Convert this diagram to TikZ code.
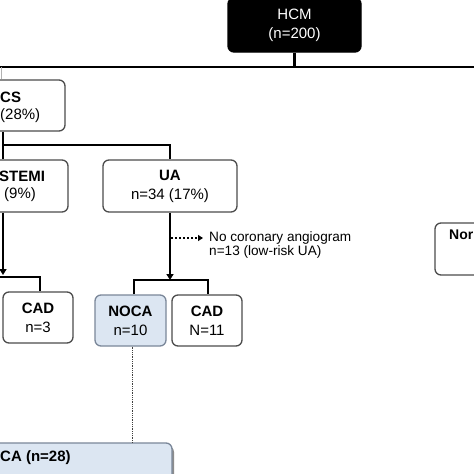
\documentclass[tikz,border=0pt]{standalone}
\usepackage{fontspec}
\setmainfont{Liberation Sans}
\usetikzlibrary{arrows.meta}
\definecolor{nocafill}{HTML}{DCE6F2}
\definecolor{nocaedge}{HTML}{7A8799}
\begin{document}
\begin{tikzpicture}[x=1pt,y=-1pt,
  box/.style={draw=black!70, line width=1.3pt, rounded corners=6pt, fill=white, inner sep=0pt, align=center, font=\fontsize{15}{19}\selectfont},
  hcmbox/.style={box, draw=black, fill=black, text=white},
  bluebox/.style={box, fill=nocafill, draw=nocaedge},
  lbl/.style={inner sep=0pt, anchor=west, font=\fontsize{15}{19}\selectfont},
  blbl/.style={lbl, font=\fontsize{15}{19}\selectfont\bfseries},
  note/.style={inner sep=0pt, anchor=west, align=left, font=\fontsize{13.6}{14}\selectfont},
  conn/.style={line width=2.1pt, black},
  tip/.style={-{Triangle[length=6pt,width=7pt]}},
  dots/.style={line width=1.8pt, dash pattern=on 2pt off 2pt},
  fine/.style={line width=0.8pt, black!75, densely dotted}
]
\useasboundingbox (0,0) rectangle (474,474);
\clip (0,0) rectangle (474,474);
\fill[white] (0,0) rectangle (474,474);

% boxes
\node[hcmbox, minimum width=133pt, minimum height=54pt] (hcm) at (294.5,25) {HCM\\(n=200)};
\node[box, minimum width=130pt, minimum height=51pt] (acs) at (0,105.5) {};
\node[blbl] (acsa) at (0,97) {CS};
\node[lbl] (acsb) at (0,116) {(28\%)};
\node[box, minimum width=136pt, minimum height=52pt] (stemi) at (0,186) {};
\node[blbl] (stemia) at (-1,176) {STEMI};
\node[lbl] (stemib) at (4,195) {(9\%)};
\node[box, minimum width=134pt, minimum height=52pt] (ua) at (170,186) {\textbf{UA}\\n=34 (17\%)};
\node[box, minimum width=70pt, minimum height=51pt] (cadl) at (38,317.5) {\textbf{CAD}\\n=3};
\node[bluebox, minimum width=71pt, minimum height=51pt] (noca) at (130.5,320.5) {\textbf{NOCA}\\n=10};
\node[box, minimum width=70pt, minimum height=51pt] (cadr) at (207,320.5) {\textbf{CAD}\\N=11};
\node[box, minimum width=105pt, minimum height=52pt] (non) at (487.5,249) {};
\node[blbl, font=\fontsize{14}{19}\selectfont\bfseries] (nona) at (449,235) {Nor};
\fill[black!45, rounded corners=6pt] (-20,446) rectangle (174,484);
\node[bluebox, minimum width=192pt, minimum height=40pt] (tot) at (76,463) {};
\node[blbl] (tota) at (0,458) {CA (n=28)};
\node[note] (noangio) at (209,245) {No coronary angiogram\\n=13 (low-risk UA)};

% connectors
\coordinate (hl) at (0,67);
\coordinate (hr) at (474,67);
\draw[conn] (hcm.south) -- (hcm.south |- hl);
\draw[conn] (hl) -- (hr);
\draw[line width=1.5pt, black!30] (1.5,67) -- (acs.north -| 1.5,0);
\draw[conn] ([xshift=3pt]acs.south) -- ([xshift=3pt]stemi.north);
\coordinate (split1) at (3,145);
\draw[conn] (split1) -| (ua.north);
\coordinate (arr1) at (3,275);
\draw[conn, line width=2.6pt, tip] ([xshift=3pt]stemi.south) -- (arr1);
\coordinate (h2) at (0,277);
\draw[conn] (h2) -| ([xshift=2pt]cadl.north);
\coordinate (arr2) at (170,280);
\draw[conn, tip] (ua.south) -- (arr2);
\draw[conn] ([xshift=3.5pt]noca.north) -- ++(0,-14) -| ([xshift=1pt]cadr.north);
\coordinate (d0) at (171,238);
\draw[dots, -{Triangle[length=5pt,width=6pt]}] (d0) -- ([xshift=-6pt]noangio.west |- d0);
\draw[fine] ([xshift=1.5pt]noca.south) -- ([xshift=1.5pt]noca.south |- tot.north);
\end{tikzpicture}
\end{document}
